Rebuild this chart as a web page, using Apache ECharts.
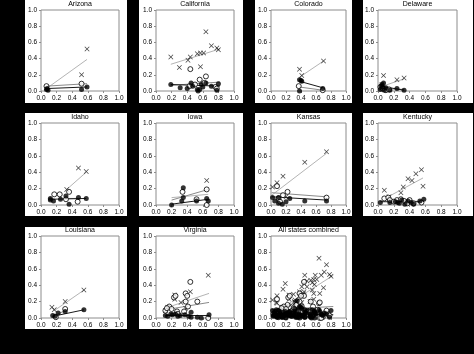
<!DOCTYPE html>
<html>
<head>
<meta charset="utf-8">
<script src="https://cdn.jsdelivr.net/npm/echarts@6/dist/echarts.min.js"></script>
<style>
  html, body { margin: 0; background: #000; }
  #chart { width: 474px; height: 354px; }
</style>
</head>
<body>
<div id="chart"></div>
<script>
// tick values shared by every panel
const ticks = [0, 0.2, 0.4, 0.6, 0.8, 1.0]

// x = crosses, o = open circles, f = filled circles, *Fit = fitted line ends
const azX = [[0.07, 0.04], [0.52, 0.20], [0.59, 0.52]]
const azO = [[0.07, 0.06], [0.52, 0.09]]
const azF = [[0.08, 0.03], [0.09, 0.01], [0.52, 0.02], [0.59, 0.05], [0.07, 0.02]]
const azXFit = [[0.07, 0.03], [0.59, 0.39]]
const azOFit = [[0.07, 0.06], [0.59, 0.09]]
const azFFit = [[0.07, 0.03], [0.59, 0.05]]

const caX = [[0.19, 0.42], [0.30, 0.29], [0.41, 0.38], [0.44, 0.42], [0.53, 0.46], [0.57, 0.47], [0.61, 0.47], [0.57, 0.30], [0.64, 0.73], [0.71, 0.56], [0.78, 0.53], [0.80, 0.51]]
const caO = [[0.44, 0.27], [0.64, 0.18], [0.56, 0.14], [0.62, 0.10], [0.43, 0.06], [0.76, 0.05], [0.78, 0.03], [0.50, 0.08]]
const caF = [[0.19, 0.08], [0.31, 0.04], [0.40, 0.03], [0.45, 0.10], [0.53, 0.02], [0.56, 0.02], [0.60, 0.05], [0.64, 0.10], [0.71, 0.06], [0.80, 0.09], [0.78, 0.01], [0.54, 0.00], [0.47, 0.06], [0.58, 0.08]]
const caXFit = [[0.19, 0.33], [0.82, 0.52]]
const caOFit = [[0.19, 0.07], [0.82, 0.11]]
const caFFit = [[0.19, 0.08], [0.82, 0.06]]

const coX = [[0.38, 0.27], [0.41, 0.19], [0.70, 0.37]]
const coO = [[0.37, 0.06], [0.69, 0.01]]
const coF = [[0.38, 0.14], [0.41, 0.12], [0.40, 0.13], [0.69, 0.03], [0.38, 0.00]]
const coXFit = [[0.38, 0.17], [0.70, 0.37]]
const coOFit = [[0.37, 0.05], [0.69, 0.01]]
const coFFit = [[0.38, 0.12], [0.69, 0.04]]

const deX = [[0.07, 0.19], [0.24, 0.14], [0.33, 0.16], [0.05, 0.08]]
const deO = [[0.03, 0.05], [0.10, 0.01], [0.06, 0.03], [0.14, 0.02]]
const deF = [[0.05, 0.08], [0.07, 0.10], [0.03, 0.02], [0.08, 0.01], [0.15, 0.01], [0.24, 0.03], [0.33, 0.01], [0.06, 0.05], [0.10, 0.04], [0.04, 0.06]]
const deXFit = [[0.03, 0.05], [0.33, 0.15]]
const deOFit = [[0.03, 0.03], [0.33, 0.02]]
const deFFit = [[0.03, 0.06], [0.33, 0.01]]

const idX = [[0.48, 0.45], [0.58, 0.41], [0.33, 0.19]]
const idO = [[0.17, 0.13], [0.24, 0.13], [0.36, 0.16], [0.32, 0.07], [0.47, 0.04]]
const idF = [[0.12, 0.08], [0.16, 0.05], [0.25, 0.07], [0.32, 0.11], [0.36, 0.01], [0.48, 0.09], [0.58, 0.08], [0.12, 0.06]]
const idXFit = [[0.33, 0.19], [0.58, 0.40]]
const idOFit = [[0.32, 0.08], [0.47, 0.08]]
const idFFit = [[0.12, 0.07], [0.58, 0.08]]

const ioX = [[0.65, 0.30]]
const ioO = [[0.65, 0.19], [0.34, 0.16], [0.65, 0.00], [0.52, 0.07]]
const ioF = [[0.35, 0.21], [0.35, 0.09], [0.33, 0.05], [0.20, 0.00], [0.52, 0.05], [0.65, 0.08], [0.67, 0.05]]
const ioXFit = [[0.20, 0.09], [0.67, 0.13]]
const ioOFit = [[0.20, 0.06], [0.67, 0.19]]
const ioFFit = [[0.20, 0.01], [0.67, 0.07]]

const ksX = [[0.74, 0.65], [0.45, 0.52], [0.16, 0.35], [0.08, 0.27], [0.02, 0.22], [0.20, 0.10]]
const ksO = [[0.08, 0.23], [0.22, 0.16], [0.16, 0.12], [0.74, 0.09], [0.10, 0.08], [0.12, 0.04]]
const ksF = [[0.02, 0.09], [0.10, 0.09], [0.10, 0.02], [0.15, 0.01], [0.20, 0.04], [0.25, 0.08], [0.45, 0.05], [0.74, 0.05], [0.05, 0.05]]
const ksXFit = [[0.01, 0.12], [0.74, 0.63]]
const ksOFit = [[0.01, 0.15], [0.74, 0.10]]
const ksFFit = [[0.01, 0.10], [0.74, 0.06]]

const kyX = [[0.08, 0.18], [0.38, 0.32], [0.43, 0.30], [0.48, 0.38], [0.55, 0.43], [0.57, 0.23], [0.32, 0.22], [0.29, 0.15], [0.14, 0.10]]
const kyO = [[0.08, 0.08], [0.13, 0.09], [0.15, 0.06], [0.24, 0.06], [0.29, 0.07], [0.33, 0.05], [0.37, 0.02], [0.40, 0.06], [0.45, 0.02], [0.55, 0.03], [0.20, 0.04]]
const kyF = [[0.03, 0.03], [0.15, 0.03], [0.22, 0.04], [0.25, 0.03], [0.30, 0.06], [0.34, 0.01], [0.38, 0.05], [0.45, 0.01], [0.53, 0.05], [0.58, 0.07], [0.42, 0.03], [0.27, 0.02]]
const kyXFit = [[0.09, 0.08], [0.57, 0.33]]
const kyOFit = [[0.08, 0.07], [0.57, 0.04]]
const kyFFit = [[0.03, 0.04], [0.58, 0.04]]

const laX = [[0.14, 0.13], [0.17, 0.10], [0.31, 0.20], [0.55, 0.34]]
const laO = [[0.31, 0.11], [0.19, 0.01]]
const laF = [[0.15, 0.03], [0.18, 0.02], [0.22, 0.06], [0.31, 0.08], [0.55, 0.10]]
const laXFit = [[0.17, 0.09], [0.55, 0.34]]
const laOFit = [[0.15, 0.02], [0.31, 0.09]]
const laFFit = [[0.15, 0.02], [0.55, 0.10]]

const vaX = [[0.67, 0.52], [0.24, 0.28], [0.24, 0.23], [0.44, 0.32], [0.32, 0.19], [0.15, 0.13], [0.38, 0.12], [0.12, 0.09]]
const vaO = [[0.44, 0.44], [0.38, 0.30], [0.40, 0.27], [0.38, 0.20], [0.53, 0.20], [0.23, 0.25], [0.25, 0.27], [0.17, 0.14], [0.20, 0.11], [0.27, 0.08], [0.36, 0.08], [0.28, 0.05], [0.67, 0.00], [0.41, 0.14], [0.12, 0.09], [0.14, 0.12]]
const vaF = [[0.12, 0.03], [0.15, 0.02], [0.21, 0.04], [0.25, 0.05], [0.31, 0.03], [0.37, 0.04], [0.42, 0.02], [0.45, 0.01], [0.45, 0.07], [0.53, 0.01], [0.68, 0.04], [0.19, 0.05], [0.28, 0.02], [0.58, 0.00]]
const vaXFit = [[0.15, 0.13], [0.68, 0.30]]
const vaOFit = [[0.12, 0.10], [0.68, 0.19]]
const vaFFit = [[0.12, 0.03], [0.68, 0.03]]

const allXFit = [[0.02, 0.05], [0.83, 0.52]]
const allOFit = [[0.00, 0.10], [0.83, 0.14]]
const allFFit = [[0.00, 0.05], [0.83, 0.04]]

// combined panel is every state's points together
const allX = [].concat(azX, caX, coX, deX, idX, ioX, ksX, kyX, laX, vaX)
const allO = [].concat(azO, caO, coO, deO, idO, ioO, ksO, kyO, laO, vaO)
const allF = [].concat(azF, caF, coF, deF, idF, ioF, ksF, kyF, laF, vaF)

const panels = [
  { name: 'Arizona', r: 0, c: 0, x: azX, o: azO, f: azF, xf: azXFit, of: azOFit, ff: azFFit },
  { name: 'California', r: 0, c: 1, x: caX, o: caO, f: caF, xf: caXFit, of: caOFit, ff: caFFit },
  { name: 'Colorado', r: 0, c: 2, x: coX, o: coO, f: coF, xf: coXFit, of: coOFit, ff: coFFit },
  { name: 'Delaware', r: 0, c: 3, x: deX, o: deO, f: deF, xf: deXFit, of: deOFit, ff: deFFit },
  { name: 'Idaho', r: 1, c: 0, x: idX, o: idO, f: idF, xf: idXFit, of: idOFit, ff: idFFit },
  { name: 'Iowa', r: 1, c: 1, x: ioX, o: ioO, f: ioF, xf: ioXFit, of: ioOFit, ff: ioFFit },
  { name: 'Kansas', r: 1, c: 2, x: ksX, o: ksO, f: ksF, xf: ksXFit, of: ksOFit, ff: ksFFit },
  { name: 'Kentucky', r: 1, c: 3, x: kyX, o: kyO, f: kyF, xf: kyXFit, of: kyOFit, ff: kyFFit },
  { name: 'Louisiana', r: 2, c: 0, x: laX, o: laO, f: laF, xf: laXFit, of: laOFit, ff: laFFit },
  { name: 'Virginia', r: 2, c: 1, x: vaX, o: vaO, f: vaF, xf: vaXFit, of: vaOFit, ff: vaFFit },
  { name: 'All states combined', r: 2, c: 2, x: allX, o: allO, f: allF, xf: allXFit, of: allOFit, ff: allFFit },
]

// layout (pixels)
const colPlot = [[41, 119], [156, 234], [271, 346], [378, 457]]
const rowPlot = [[10, 91], [123, 205], [236, 318]]
const colBox = [[25, 127], [139, 243], [255, 352], [363, 473]]
const rowBox = [[0, 103], [113, 216], [227, 329]]

const CROSS = 'path://M0,1L1,0L5,4L9,0L10,1L6,5L10,9L9,10L5,6L1,10L0,9L4,5Z'
const FONT = 'Liberation Sans, Arial, sans-serif'
const fmt = (v) => v.toFixed(1)

const grid = []
const xAxis = []
const yAxis = []
const title = []
const series = []
const graphic = []

panels.forEach((p, i) => {
  const [l, r] = colPlot[p.c]
  const [t, b] = rowPlot[p.r]
  const [bl, br] = colBox[p.c]
  const [bt, bb] = rowBox[p.r]
  graphic.push({
    type: 'rect', z: -10, silent: true,
    shape: { x: bl, y: bt, width: br - bl, height: bb - bt },
    style: { fill: '#fff' },
  })
  grid.push({
    left: l, top: t, width: r - l, height: b - t,
    show: true, borderColor: '#8c8c8c', borderWidth: 1, backgroundColor: '#fff',
  })
  title.push({
    text: p.name, left: (l + r) / 2, top: t - 9, textAlign: 'center', padding: 0,
    textStyle: { fontSize: 7, fontWeight: 'normal', color: '#000', fontFamily: FONT },
  })
  const axisCommon = {
    type: 'value', min: 0, max: 1, interval: ticks[1] - ticks[0], gridIndex: i,
    axisLine: { show: false },
    axisTick: { show: true, inside: false, length: 2, lineStyle: { color: '#8c8c8c' } },
    splitLine: { show: false },
    axisLabel: { fontSize: 6.5, color: '#000', fontFamily: FONT, formatter: fmt, showMaxLabel: true, showMinLabel: true, margin: 4 },
  }
  xAxis.push({ ...axisCommon })
  yAxis.push({ ...axisCommon })

  const line = (data, color) => ({
    type: 'line', xAxisIndex: i, yAxisIndex: i, data, symbol: 'none', silent: true,
    lineStyle: { color, width: 1 }, z: 1,
  })
  series.push(line(p.xf, '#b4b4b4'))
  series.push(line(p.of, '#8a8a8a'))
  series.push(line(p.ff, '#1a1a1a'))
  series.push({
    type: 'scatter', xAxisIndex: i, yAxisIndex: i, data: p.x, symbol: CROSS, symbolSize: 5,
    itemStyle: { color: '#111' }, z: 3,
  })
  series.push({
    type: 'scatter', xAxisIndex: i, yAxisIndex: i, data: p.o, symbol: 'circle', symbolSize: 5,
    itemStyle: { color: '#fff', borderColor: '#000', borderWidth: 1 }, z: 3,
  })
  series.push({
    type: 'scatter', xAxisIndex: i, yAxisIndex: i, data: p.f, symbol: 'circle', symbolSize: 5,
    itemStyle: { color: '#000' }, z: 3,
  })
})

const chart = echarts.init(document.getElementById('chart'), null, { renderer: 'canvas' })
chart.setOption({
  animation: false,
  backgroundColor: '#000',
  graphic,
  title,
  grid,
  xAxis,
  yAxis,
  series,
})
</script>
</body>
</html>
